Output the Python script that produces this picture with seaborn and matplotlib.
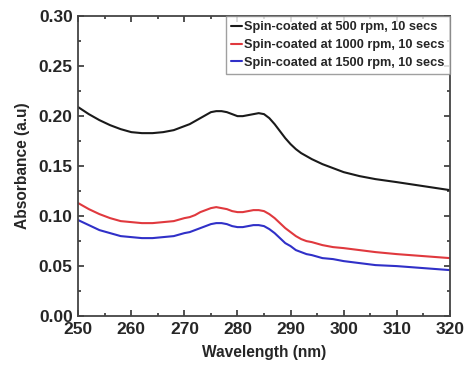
import numpy as np
import pandas as pd
import matplotlib
matplotlib.use("Agg")
import matplotlib.pyplot as plt
import seaborn as sns
from matplotlib.ticker import MultipleLocator

wavelength = [250, 252, 254, 256, 258, 260, 262, 264, 266, 268, 270, 271, 272, 273, 274, 275, 276, 277,
              278, 279, 280, 281, 282, 283, 284, 285, 286, 287, 288, 289, 290, 291, 292, 293, 294, 296,
              298, 300, 303, 306, 310, 315, 320]
abs_500 = [.209, .202, .196, .191, .187, .184, .183, .183, .184, .186, .190, .192, .195, .198, .201, .204, .205, .205,
           .204, .202, .200, .200, .201, .202, .203, .202, .198, .192, .185, .178, .172, .167, .163, .160, .157, .152,
           .148, .144, .140, .137, .134, .130, .126]
abs_1000 = [.113, .107, .102, .098, .095, .094, .093, .093, .094, .095, .098, .099, .101, .104, .106, .108, .109, .108,
            .107, .105, .104, .104, .105, .106, .106, .105, .102, .098, .093, .088, .084, .080, .077, .075, .074, .071,
            .069, .068, .066, .064, .062, .060, .058]
abs_1500 = [.096, .091, .086, .083, .080, .079, .078, .078, .079, .080, .083, .084, .086, .088, .090, .092, .093, .093,
            .092, .090, .089, .089, .090, .091, .091, .090, .087, .083, .078, .073, .070, .066, .064, .062, .061, .058,
            .057, .055, .053, .051, .050, .048, .046]
labels = ["Spin-coated at 500 rpm, 10 secs",
          "Spin-coated at 1000 rpm, 10 secs",
          "Spin-coated at 1500 rpm, 10 secs"]
colors = ["#1a1a1a", "#e0393e", "#3030c8"]

df = pd.concat([
    pd.DataFrame({"Wavelength": wavelength, "Absorbance": vals, "Sample": lab})
    for vals, lab in zip([abs_500, abs_1000, abs_1500], labels)
])

sns.set_style("ticks")
plt.rcParams['font.family'] = ['Liberation Sans', 'DejaVu Sans']

fig = plt.figure(figsize=(4.74, 3.85), dpi=100)
ax = fig.add_axes([0.165, 0.179, 0.784, 0.779])
sns.lineplot(data=df, x="Wavelength", y="Absorbance", hue="Sample", palette=colors,
             hue_order=labels, linewidth=1.5, ax=ax)

ax.set_xlim(250, 320)
ax.set_ylim(0, 0.30)
ax.xaxis.set_major_locator(MultipleLocator(10))
ax.xaxis.set_minor_locator(MultipleLocator(5))
ax.yaxis.set_major_locator(MultipleLocator(0.05))
ax.yaxis.set_minor_locator(MultipleLocator(0.025))
ax.yaxis.set_major_formatter(matplotlib.ticker.FormatStrFormatter('%.2f'))
ax.tick_params(which='both', direction='in', top=True, right=True, color='#333333', width=1.2)
ax.tick_params(which='major', length=4, labelsize=12.5, pad=4)
ax.tick_params(which='minor', length=2.5)
for lab in ax.get_xticklabels() + ax.get_yticklabels():
    lab.set_fontweight('bold')
for s in ax.spines.values():
    s.set_color('#444444')
    s.set_linewidth(1.3)

ax.set_xlabel("Wavelength (nm)", fontsize=11.2, fontweight='bold', labelpad=6)
ax.set_ylabel("Absorbance (a.u)", fontsize=11.2, fontweight='bold', labelpad=6)

leg = ax.legend(loc='upper right', frameon=True, fancybox=False, borderaxespad=0,
                prop={'weight': 'bold', 'size': 9.2}, handlelength=0.8, handletextpad=0.2,
                borderpad=0.4, labelspacing=0.45, title=None)
leg.get_frame().set_edgecolor('#888888')
leg.get_frame().set_linewidth(1.0)

fig.savefig("out.png", dpi=100)
